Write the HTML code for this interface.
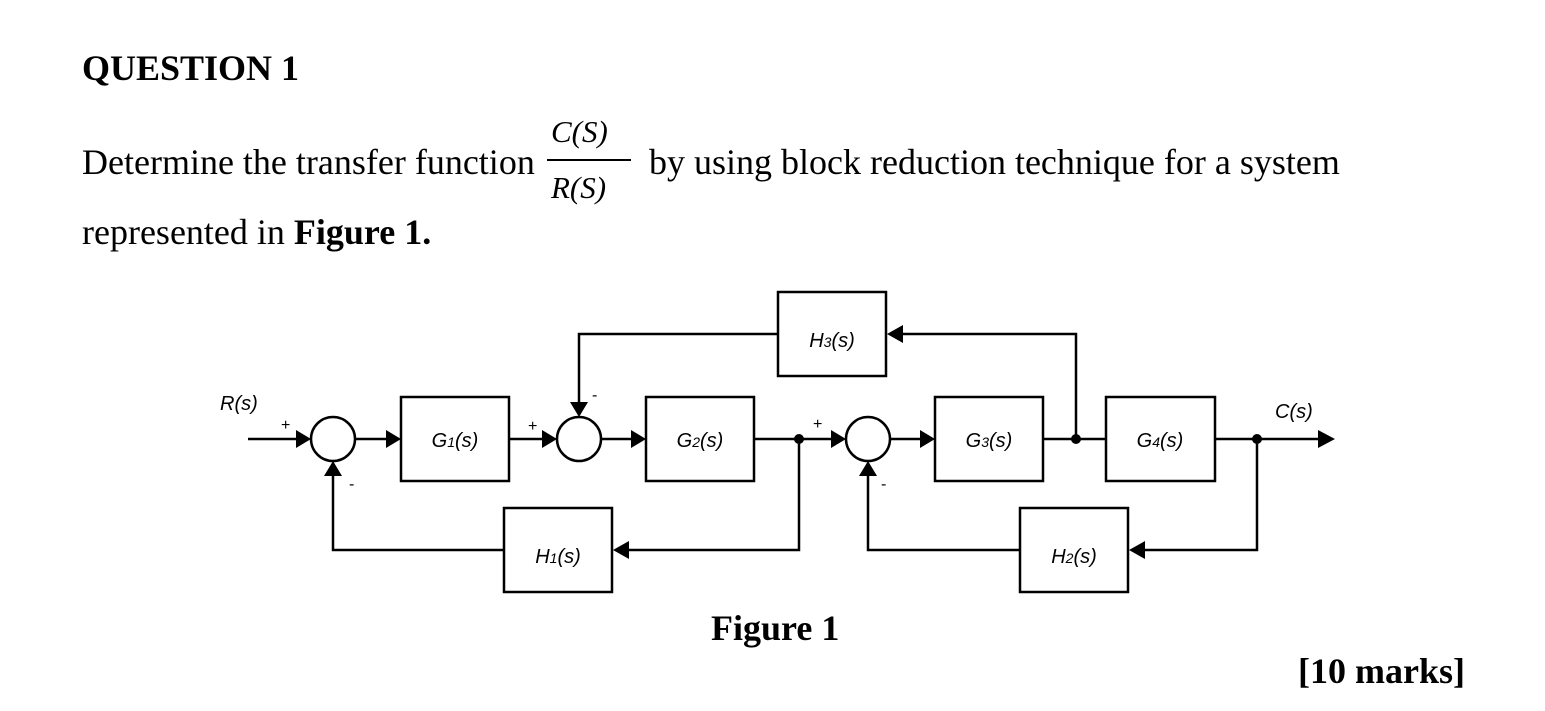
<!DOCTYPE html>
<html><head><meta charset="utf-8"><style>
body{margin:0;background:#fff;width:1545px;height:711px;overflow:hidden;position:relative;font-family:"Liberation Serif",serif;color:#000}
.t{position:absolute;white-space:nowrap;font-size:36px}
</style></head><body>
<div class="t" style="left:82px;top:47px;font-weight:bold">QUESTION 1</div>
<div class="t" style="left:82px;top:141px">Determine the transfer function</div>
<div class="t" style="left:551px;top:114px;font-style:italic;font-size:31px">C(S)</div>
<div style="position:absolute;left:547px;top:159px;width:84px;height:2px;background:#000"></div>
<div class="t" style="left:551px;top:170px;font-style:italic;font-size:31px">R(S)</div>
<div class="t" style="left:649px;top:141px">by using block reduction technique for a system</div>
<div class="t" style="left:82px;top:211px">represented in <b>Figure 1.</b></div>
<div class="t" style="left:711px;top:607px;font-weight:bold">Figure 1</div>
<div class="t" style="right:80px;top:650px;font-weight:bold">[10 marks]</div>
<svg width="1545" height="711" style="position:absolute;left:0;top:0" font-family="Liberation Sans, sans-serif" font-style="italic" font-size="20">
<g stroke="#000" stroke-width="2.5" fill="none">
<rect x="401" y="397" width="108" height="84"/>
<rect x="646" y="397" width="108" height="84"/>
<rect x="935" y="397" width="108" height="84"/>
<rect x="1106" y="397" width="109" height="84"/>
<rect x="778" y="292" width="108" height="84"/>
<rect x="504" y="508" width="108" height="84"/>
<rect x="1020" y="508" width="108" height="84"/>
<circle cx="333" cy="439" r="22"/>
<circle cx="579" cy="439" r="22"/>
<circle cx="868" cy="439" r="22"/>
<path d="M248 439H296"/><path d="M355 439H386"/><path d="M509 439H542"/><path d="M601 439H631"/>
<path d="M754 439H831"/><path d="M890 439H920"/><path d="M1043 439H1106"/><path d="M1215 439H1318"/>
<path d="M1076 439V334H903"/><path d="M778 334H579V402"/>
<path d="M799 439V550H629"/><path d="M504 550H333V476"/>
<path d="M1257 439V550H1145"/><path d="M1020 550H868V476"/>
</g>
<g fill="#000">
<path d="M296 430L311 439L296 448z"/><path d="M386 430L401 439L386 448z"/>
<path d="M542 430L557 439L542 448z"/><path d="M631 430L646 439L631 448z"/>
<path d="M831 430L846 439L831 448z"/><path d="M920 430L935 439L920 448z"/>
<path d="M1318 430L1335 439L1318 448z"/>
<path d="M903 325L887 334L903 343z"/><path d="M629 541L613 550L629 559z"/><path d="M1145 541L1129 550L1145 559z"/>
<path d="M570 402L579 417L588 402z"/>
<path d="M324 476L333 461L342 476z"/><path d="M859 476L868 461L877 476z"/>
<circle cx="799" cy="439" r="5"/><circle cx="1076" cy="439" r="5"/><circle cx="1257" cy="439" r="5"/>
</g>
<g text-anchor="middle">
<text x="455" y="447">G<tspan font-size="14">1</tspan>(s)</text>
<text x="700" y="447">G<tspan font-size="14">2</tspan>(s)</text>
<text x="989" y="447">G<tspan font-size="14">3</tspan>(s)</text>
<text x="1160" y="447">G<tspan font-size="14">4</tspan>(s)</text>
<text x="832" y="347">H<tspan font-size="14">3</tspan>(s)</text>
<text x="558" y="563">H<tspan font-size="14">1</tspan>(s)</text>
<text x="1074" y="563">H<tspan font-size="14">2</tspan>(s)</text>
</g>
<text x="220" y="410">R(s)</text>
<text x="1275" y="418">C(s)</text>
<g font-style="normal" font-size="16">
<text x="281" y="430">+</text><text x="528" y="431">+</text><text x="813" y="429">+</text>
<text x="592" y="400">-</text><text x="349" y="489">-</text><text x="881" y="489">-</text>
</g>
</svg>
</body></html>
